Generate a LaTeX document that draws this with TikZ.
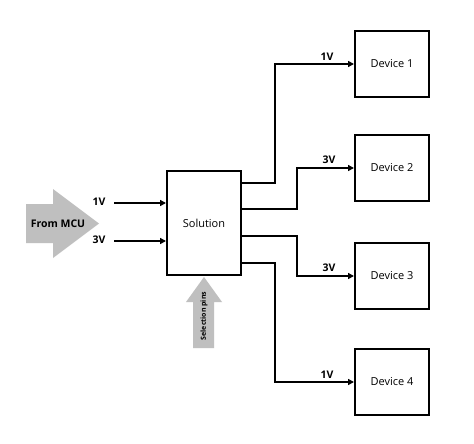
\documentclass[tikz,border=0pt]{standalone}
\usepackage{fontspec}
\setmainfont{Open Sans}
\usetikzlibrary{arrows.meta}

\begin{document}
\begin{tikzpicture}[x=1pt, y=-1pt]

    % Define styles
    \tikzset{
        block/.style={draw=black, line width=2pt, minimum width=74pt, minimum height=104pt, font=\fontsize{11}{13}\selectfont},
        device/.style={block, minimum height=66pt},
        wire/.style={line width=2pt, -{Triangle[length=6pt, width=6pt]}},
        volt/.style={font=\fontsize{10.5}{12}\selectfont\bfseries, inner sep=1pt},
        pin arrow/.style={fill=black!25, draw=none}
    }

    % Page frame
    \useasboundingbox (0,0) rectangle (474,444);
    \fill[white] (0,0) rectangle (474,444);

    % Central block and the four devices
    \node[block] (sol) at (204,223) {Solution};
    \node[device] (dev1) at (392,64) {Device 1};
    \node[device] (dev2) at (392,168) {Device 2};
    \node[device] (dev3) at (392,276) {Device 3};
    \node[device] (dev4) at (392,382) {Device 4};

    % Big grey arrow from the MCU
    \fill[pin arrow] (26,204) -- (53,204) -- (53,189) -- (99,223.5) -- (53,258) -- (53,243) -- (26,243) -- cycle;
    \node[font=\fontsize{10.5}{12}\selectfont\bfseries] (mcu) at (58,224) {From MCU};

    % Grey arrow for the selection pins
    \fill[pin arrow] (193,348) -- (193,302) -- (186,302) -- (204,277) -- (222,302) -- (214,302) -- (214,348) -- cycle;
    \node[rotate=90, font=\fontsize{7}{8}\selectfont\bfseries] (sel) at (204,316) {Selection pins};

    % Inputs
    \coordinate (in1) at (114,0);
    \coordinate (in2) at (114,0);
    \node[volt] (v1) at (99,202) {1V};
    \node[volt] (v2) at (99,240) {3V};
    \draw[wire] ([yshift=20pt]sol.west -| in1) -- ([yshift=20pt]sol.west);
    \draw[wire] ([yshift=-18pt]sol.west -| in2) -- ([yshift=-18pt]sol.west);

    % Outputs
    \draw[wire] ([yshift=40pt]sol.east) -- ++(33,0) |- (dev1.west) node[volt, pos=0.83, above=2pt] (o1) {1V};
    \draw[wire] ([yshift=14pt]sol.east) -- ++(55,0) |- (dev2.west) node[volt, pos=0.78, above=2pt] (o2) {3V};
    \draw[wire] ([yshift=-13pt]sol.east) -- ++(55,0) |- (dev3.west) node[volt, pos=0.78, above=2pt] (o3) {3V};
    \draw[wire] ([yshift=-40pt]sol.east) -- ++(33,0) |- (dev4.west) node[volt, pos=0.83, above=2pt] (o4) {1V};

\end{tikzpicture}
\end{document}
